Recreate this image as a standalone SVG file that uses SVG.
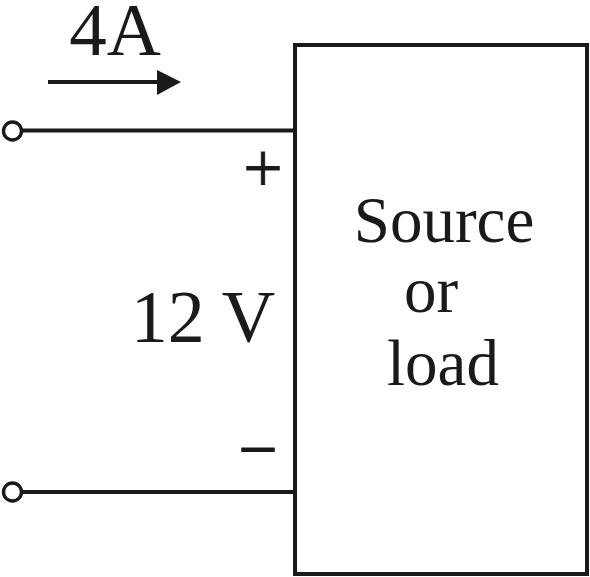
<svg xmlns="http://www.w3.org/2000/svg" width="590" height="577" viewBox="0 0 590 577">
<style>
.t{font-family:"Liberation Serif","Times New Roman",serif;fill:#1a1a1a}
.s{stroke:#1a1a1a;stroke-width:0.8}
.w{stroke:#1a1a1a;stroke-width:4;fill:none}
.term{stroke:#1a1a1a;stroke-width:3.4;fill:#fff}
</style>
<rect width="590" height="577" fill="#fff"/>
<g id="connectors">
<line class="w" x1="20" y1="130.5" x2="295" y2="130.5"/>
<line class="w" x1="20" y1="492" x2="295" y2="492"/>
<line class="w" x1="48" y1="82" x2="160" y2="82"/>
<polygon points="157,70 181,82 157,95" fill="#1a1a1a"/>
</g>
<g id="box">
<rect class="w" x="295" y="45" width="292" height="529"/>
<text class="t" x="444" y="242" font-size="65" text-anchor="middle">Source</text>
<text class="t" x="431" y="312" font-size="65" text-anchor="middle">or</text>
<text class="t" x="443" y="385" font-size="65" text-anchor="middle">load</text>
</g>
<g id="terminal-top"><circle class="term" cx="12.5" cy="131" r="9"/></g>
<g id="terminal-bottom"><circle class="term" cx="12.5" cy="492" r="9"/></g>
<g id="labels">
<text class="t" x="115" y="55" font-size="75" text-anchor="middle">4A</text>
<text class="t" x="203" y="342" font-size="74" text-anchor="middle">12 V</text>
<text class="t s" x="263" y="192" font-size="70" text-anchor="middle">+</text>
<text class="t s" x="258" y="473" font-size="70" text-anchor="middle">−</text>
</g>
</svg>
